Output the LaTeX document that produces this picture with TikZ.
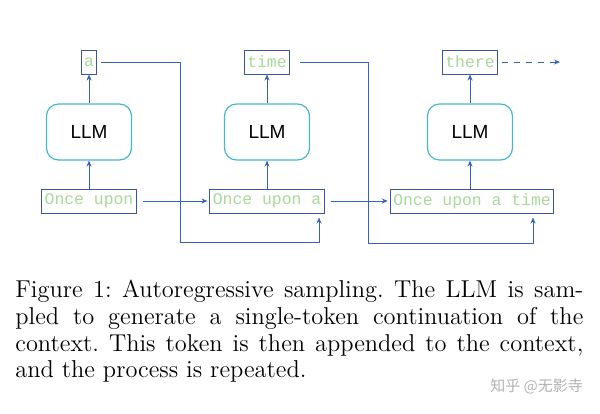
\documentclass[tikz,border=0pt]{standalone}
\usepackage{fontspec}
\setmonofont{Liberation Mono}
\setsansfont{Liberation Sans}
\newfontfamily\cjk{Noto Sans CJK SC}
\usetikzlibrary{arrows.meta}
\definecolor{bx}{HTML}{3A55A8}
\definecolor{ar}{HTML}{3560C0}
\definecolor{tk}{HTML}{A8D89A}
\definecolor{llm}{HTML}{45B8C8}
\begin{document}
\frenchspacing
\begin{tikzpicture}[x=0.5pt,y=-0.5pt,
  tok/.style={draw=bx,line width=0.5pt,inner xsep=1.5pt,inner ysep=1.5pt,font=\ttfamily\fontsize{8.2}{10}\selectfont,text=tk,minimum height=12pt},
  model/.style={draw=llm,line width=0.6pt,rounded corners=6pt,minimum width=42.5pt,minimum height=28pt,font=\sffamily\fontsize{9.5}{10}\selectfont},
  arr/.style={draw=ar,line width=0.5pt,-{Stealth[length=3pt,width=2.5pt]}}]
\useasboundingbox (0,0) rectangle (600,413);
\node[tok] (o1) at (89,201) {Once upon};
\node[model] (l1) at (89,132) {LLM};
\node[tok] (t1) at (89,62) {a};
\node[tok] (o2) at (267,201) {Once upon a};
\node[model] (l2) at (267,132) {LLM};
\node[tok] (t2) at (267,62) {time};
\node[tok] (o3) at (472,201) {Once upon a time};
\node[model] (l3) at (470,132) {LLM};
\node[tok] (t3) at (470,62) {there};
\coordinate (e) at (560,62);
\draw[arr] (o1) -- (l1);
\draw[arr] (l1) -- (t1);
\draw[arr] (o2) -- (l2);
\draw[arr] (l2) -- (t2);
\draw[arr] (o3.north -| l3) -- (l3);
\draw[arr] (l3) -- (t3);
\draw[arr] ([xshift=3pt]o1.east) -- ([xshift=-1pt]o2.west);
\draw[arr] ([xshift=3pt]o2.east) -- ([xshift=-1pt]o3.west);
\draw[arr,dashed] ([xshift=2pt]t3.east) -- (e);
\draw[arr] ([xshift=2pt]t1.east) -- (180,62) -- (180,242) -- (319,242) -- ([xshift=26pt,yshift=-2pt]o2.south);
\draw[arr] ([xshift=5pt]t2.east) -- (368,62) -- (368,243) -- (533,243) -- ([xshift=30.5pt,yshift=-2pt]o3.south);
\node[anchor=north west,inner sep=0pt,text width=284pt,align=justify,font=\fontsize{12.2}{13.3}\selectfont] (cap) at (15,280)
{Figure 1: Autoregressive sampling. The LLM is sam-\linebreak pled to generate a single-token continuation of the\linebreak context. This token is then appended to the context,\linebreak and the process is repeated.};
\node[anchor=east,text=gray!60,font=\cjk\fontsize{7.5}{9}\selectfont] (wm) at (590,386) {知乎 @无影寺};
\end{tikzpicture}
\end{document}
